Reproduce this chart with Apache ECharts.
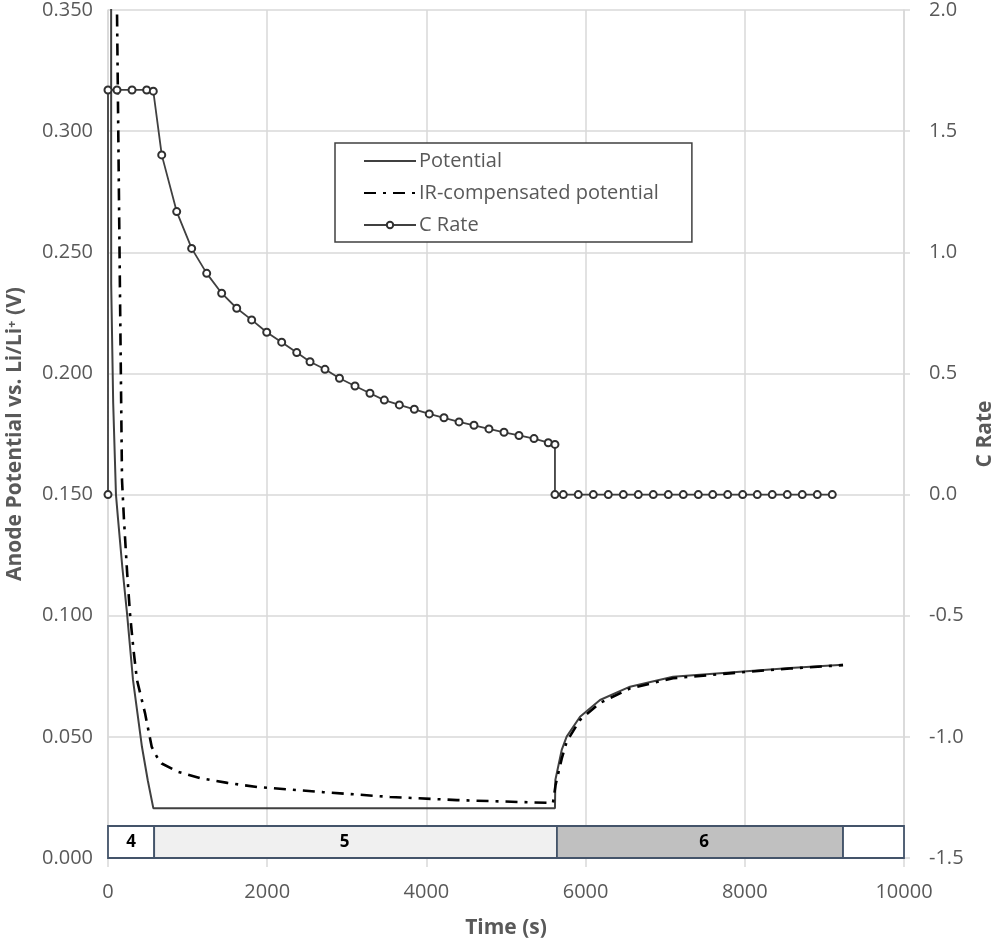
<!DOCTYPE html>
<html><head><meta charset="utf-8">
<script src="https://cdn.jsdelivr.net/npm/echarts@6/dist/echarts.min.js"></script>
<style>html,body{margin:0;padding:0;background:#fff}#c{width:995px;height:938px}</style>
</head><body><div id="c"></div>
<script>
// ---- data ----
const potentialTime = [38, 40, 65, 100, 126, 180, 239, 314, 427, 500, 570, 1500, 3000, 4500, 5615, 5620, 5700, 5762, 5930, 6181, 6558, 7098, 7940, 8568, 9234];
const potentialValue = [0.62, 0.237, 0.188, 0.150, 0.140, 0.120, 0.101, 0.0735, 0.0458, 0.032, 0.0205, 0.0205, 0.0205, 0.0205, 0.0205, 0.0322, 0.0446, 0.0501, 0.0583, 0.0652, 0.0707, 0.0748, 0.0769, 0.0784, 0.0798];

const irTime = [95, 113, 145, 176, 200, 240, 276, 320, 364, 465, 549, 610, 675, 880, 1156, 1500, 1872, 2701, 3543, 4384, 5590, 5615, 5622, 5700, 5762, 5930, 6181, 6558, 7098, 7940, 8568, 9234];
const irValue = [0.42, 0.35, 0.25, 0.156, 0.140, 0.118, 0.101, 0.086, 0.0735, 0.0598, 0.0459, 0.042, 0.039, 0.0356, 0.033, 0.031, 0.0293, 0.0272, 0.0252, 0.0239, 0.0227, 0.0225, 0.030, 0.041, 0.048, 0.057, 0.064, 0.070, 0.0742, 0.0766, 0.0782, 0.0796];

const cRateTime = [0, 0, 113, 302, 486, 569,
  675, 863, 1051, 1240, 1428, 1617, 1805, 1994, 2182, 2371, 2538, 2726, 2908, 3103, 3291, 3471, 3660, 3848, 4036, 4221, 4410, 4598, 4786, 4975, 5163, 5352, 5531,
  5615, 5615,
  5720, 5908, 6097, 6285, 6474, 6662, 6850, 7039, 7227, 7416, 7597, 7785, 7973, 8157, 8345, 8534, 8722, 8911, 9099];
const cRateValue = [0, 1.67, 1.67, 1.67, 1.67, 1.665,
  1.402, 1.168, 1.016, 0.913, 0.831, 0.769, 0.721, 0.670, 0.629, 0.586, 0.548, 0.517, 0.480, 0.448, 0.418, 0.390, 0.370, 0.352, 0.333, 0.317, 0.300, 0.286, 0.271, 0.257, 0.244, 0.231, 0.214,
  0.207, 0,
  0, 0, 0, 0, 0, 0, 0, 0, 0, 0, 0, 0, 0, 0, 0, 0, 0, 0, 0];

const stepBounds = [0, 580, 5640, 9234, 10000];
const stepLabels = ['4', '5', '6', ''];
const stepBandTop = 0.0132;

const xTicks = {min: 0, max: 10000, interval: 2000};
const leftTicks = {min: 0, max: 0.35, interval: 0.05};
const rightTicks = {min: -1.5, max: 2.0, interval: 0.5};

// ---- styles ----
const stepFills = ['#ffffff', '#f0f0f0', '#c0c0c0', '#ffffff'];
const stepLabelShift = [0, -11, 4, 0];
const FONT = 'Open Sans';
const TXT = '#595959';
const GRID = '#d9d9d9';
const NOMARK = {color: 'rgba(0,0,0,0)', borderColor: 'rgba(0,0,0,0)', borderWidth: 0};

const zip = (a, b) => a.map((v, i) => [v, b[i]]);

const bandData = stepLabels.map((lab, i) => [
  {name: lab, xAxis: stepBounds[i], yAxis: 0, itemStyle: {color: stepFills[i]}, label: {offset: [stepLabelShift[i], 0]}},
  {xAxis: stepBounds[i + 1], yAxis: stepBandTop}
]);

const chart = echarts.init(document.getElementById('c'), null, {renderer: 'canvas'});
chart.setOption({
  animation: false,
  backgroundColor: '#fff',
  textStyle: {fontFamily: FONT},
  grid: {left: 108, right: 91, top: 10, bottom: 80, containLabel: false, outerBoundsMode: 'none'},
  legend: {
    left: 335, top: 143, orient: 'vertical',
    padding: [8, 33, 7, 28],
    borderColor: '#404040', borderWidth: 1.5, backgroundColor: '#fff',
    itemWidth: 52, itemHeight: 8, itemGap: 12,
    textStyle: {color: TXT, fontSize: 20, fontFamily: FONT, padding: [0, 0, 0, -2]},
    data: [
      {name: 'Potential', itemStyle: NOMARK},
      {name: 'IR-compensated potential', itemStyle: NOMARK},
      {name: 'C Rate'}
    ]
  },
  xAxis: {
    type: 'value', min: xTicks.min, max: xTicks.max, interval: xTicks.interval,
    name: 'Time (s)', nameLocation: 'middle', nameGap: 60,
    nameTextStyle: {color: TXT, fontSize: 21, fontWeight: 'bold', fontFamily: FONT},
    axisLine: {show: true, lineStyle: {color: GRID, width: 1.5}},
    axisTick: {show: true, length: 9, lineStyle: {color: GRID, width: 1.5}},
    axisLabel: {color: TXT, fontSize: 20, margin: 24, fontFamily: FONT, formatter: v => String(v)},
    splitLine: {show: true, lineStyle: {color: GRID, width: 1.5}}
  },
  yAxis: [{
    type: 'value', min: leftTicks.min, max: leftTicks.max, interval: leftTicks.interval,
    name: 'Anode Potential vs. Li/Li\u207A (V)', nameLocation: 'middle', nameGap: 82, nameRotate: 90,
    nameTextStyle: {color: TXT, fontSize: 21, fontWeight: 'bold', fontFamily: FONT},
    axisLine: {show: true, lineStyle: {color: GRID, width: 1.5}},
    axisTick: {show: false},
    axisLabel: {color: TXT, fontSize: 20, margin: 15, fontFamily: FONT, formatter: v => v.toFixed(3)},
    splitLine: {show: true, lineStyle: {color: GRID, width: 1.5}}
  }, {
    type: 'value', min: rightTicks.min, max: rightTicks.max, interval: rightTicks.interval,
    position: 'right',
    name: 'C Rate', nameLocation: 'middle', nameGap: 62, nameRotate: 90,
    nameTextStyle: {color: TXT, fontSize: 21, fontWeight: 'bold', fontFamily: FONT},
    axisLine: {show: true, lineStyle: {color: GRID, width: 1.5}},
    axisTick: {show: true, length: 6, lineStyle: {color: GRID, width: 1.5}},
    axisLabel: {color: TXT, fontSize: 20, margin: 25, fontFamily: FONT, formatter: v => v.toFixed(1)},
    splitLine: {show: false}
  }],
  series: [{
    name: 'Potential', type: 'line', yAxisIndex: 0, symbol: 'none', showSymbol: false,
    data: zip(potentialTime, potentialValue),
    lineStyle: {color: '#404040', width: 2}, itemStyle: {color: '#404040'},
    z: 3,
    markArea: {
      silent: true,
      itemStyle: {borderColor: '#44546a', borderWidth: 1.8},
      label: {show: true, position: 'inside', color: '#000', fontWeight: 'bold', fontSize: 17, fontFamily: FONT},
      data: bandData
    }
  }, {
    name: 'IR-compensated potential', type: 'line', yAxisIndex: 0, symbol: 'none', showSymbol: false,
    data: zip(irTime, irValue),
    lineStyle: {color: '#000', width: 2.6, type: [12, 7, 3, 7]}, itemStyle: {color: '#000'},
    z: 4
  }, {
    name: 'C Rate', type: 'line', yAxisIndex: 1, symbol: 'emptyCircle', symbolSize: 7, showAllSymbol: true,
    data: zip(cRateTime, cRateValue),
    lineStyle: {color: '#404040', width: 1.8},
    itemStyle: {color: '#303030', borderColor: '#303030', borderWidth: 1.6},
    z: 5
  }]
});
</script>
</body></html>
